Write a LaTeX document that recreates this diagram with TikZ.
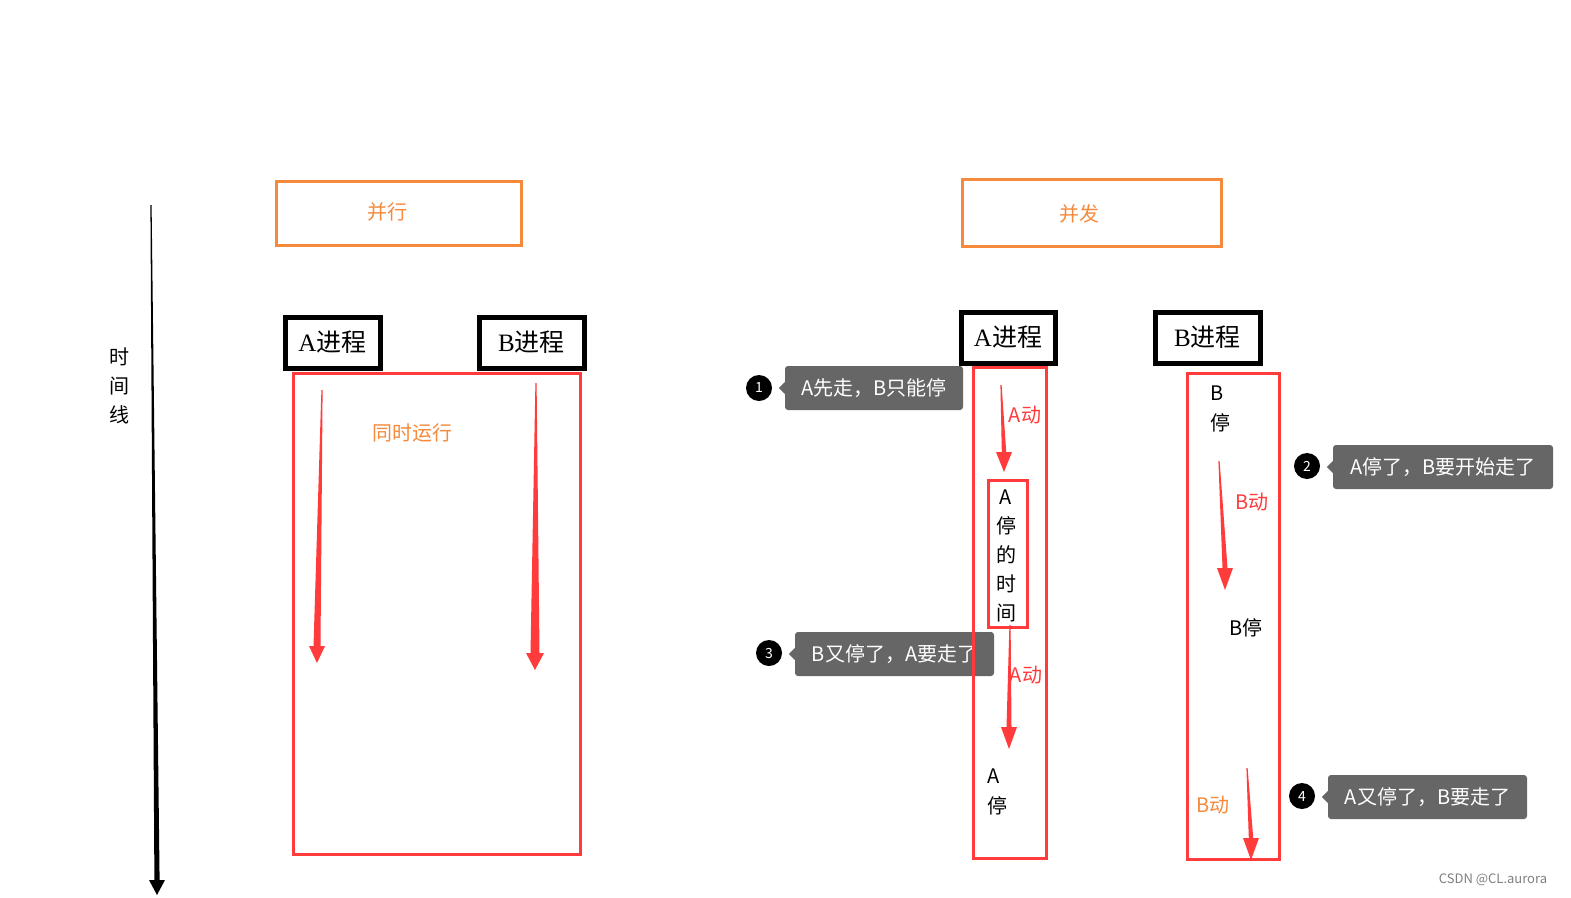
\documentclass[tikz,border=0pt]{standalone}
\usepackage{fontspec}
\setmainfont{Noto Sans CJK SC}
\newfontfamily\latserif{Liberation Serif}
\definecolor{myred}{HTML}{FF3B3B}
\definecolor{myorange}{HTML}{F58A3C}
\definecolor{callgray}{HTML}{666666}
\newcommand{\fs}[1]{\fontsize{#1}{#1}\selectfont}
% tapered arrow: x1,y1 (tail) x2,y2 (tip), half width bottom, half head width, head length, color
\newcommand{\tarrow}[8]{%
  \fill[#8] (#1-0.6,#2) -- (#1+0.6,#2) -- (#3+#5,#4-#7) -- (#3+#6,#4-#7) -- (#3,#4) -- (#3-#6,#4-#7) -- (#3-#5,#4-#7) -- cycle;}
\begin{document}
\begin{tikzpicture}[x=1pt,y=-1pt,
  titlebox/.style={draw=myorange,line width=3pt,inner sep=0pt},
  titletext/.style={text=myorange,font=\fs{20},inner sep=0pt},
  procbox/.style={draw=black,line width=5pt,font=\fs{25},inner sep=0pt},
  lane/.style={draw=myred,line width=3pt},
  call/.style={fill=callgray,text=white,rounded corners=3pt,font=\fs{20},inner sep=0pt,minimum height=44pt},
  num/.style={circle,fill=black,text=white,font=\fs{14},inner sep=0pt,minimum size=26pt},
  lbl/.style={font=\fs{20},inner sep=0pt}]
\useasboundingbox (0,0) rectangle (1571,897);
\fill[white] (0,0) rectangle (1571,897);

% timeline
\tarrow{151}{205}{157}{895}{2.6}{8}{15}{black}
\node[lbl,align=center] (tl) at (119,386) {时\\[9pt]间\\[9pt]线};

% left: parallel
\node[titlebox,minimum width=245pt,minimum height=64pt] (par) at (398.5,213) {};
\node[titletext] (partxt) at (387,212) {并行};
\node[procbox,minimum width=95pt,minimum height=51pt] (pa) at (332.5,342.5) {{\latserif A}进程};
\node[procbox,minimum width=105pt,minimum height=51pt] (pb) at (531.5,342.5) {{\latserif B}进程};
\draw[lane] (293,373) rectangle (580,854);
\node[lbl,text=myorange] (sim) at (412,433) {同时运行};
\tarrow{322}{390}{317}{663}{3.5}{8}{17}{myred}
\tarrow{536}{383}{535}{670}{4.5}{9}{17}{myred}

% right: concurrent
\node[titlebox,minimum width=259pt,minimum height=67pt] (con) at (1091.5,212.5) {};
\node[titletext] (contxt) at (1079,214) {并发};
\node[procbox,minimum width=94pt,minimum height=51pt] (ca) at (1008,337.5) {{\latserif A}进程};
\node[procbox,minimum width=105pt,minimum height=51pt] (cb) at (1207.5,337.5) {{\latserif B}进程};

% callouts
\node[call,minimum width=178pt] (c1) at (874,388) {A先走，B只能停};
\fill[callgray] (c1.west) ++(0,-6) -- ++(-6,6) -- ++(6,6) -- cycle;
\node[num] (n1) at (759,388) {1};
\node[call,minimum width=220pt] (c2) at (1443,467) {A停了，B要开始走了};
\fill[callgray] (c2.west) ++(0,-6) -- ++(-6,6) -- ++(6,6) -- cycle;
\node[num] (n2) at (1307,466) {2};
\node[call,minimum width=199pt] (c3) at (894.5,654) {B又停了，A要走了};
\fill[callgray] (c3.west) ++(0,-6) -- ++(-6,6) -- ++(6,6) -- cycle;
\node[num] (n3) at (769,653) {3};
\node[call,minimum width=199pt] (c4) at (1427.5,797) {A又停了，B要走了};
\fill[callgray] (c4.west) ++(0,-6) -- ++(-6,6) -- ++(6,6) -- cycle;
\node[num] (n4) at (1302,796) {4};

% A lane
\draw[lane] (973,367) rectangle (1046,858);
\node[lbl,text=myred] (ad1) at (1025,415) {A动};
\tarrow{1001}{385}{1004}{472}{2.2}{8}{20}{myred}
\draw[lane] (988,480) rectangle (1027,627);
\node[lbl,align=center] (astop) at (1006,556) {A\\[9pt]停\\[9pt]的\\[9pt]时\\[9pt]间};
\node[lbl,text=myred] (ad2) at (1026,675) {A动};
\tarrow{1010}{625}{1009}{749}{2.5}{8}{22}{myred}
\node[lbl,align=left] (astop2) at (997,792) {A\\[10pt]停};

% B lane
\draw[lane] (1187,373) rectangle (1279,859);
\node[lbl,align=left] (bstop1) at (1220,409) {B\\[10pt]停};
\tarrow{1219}{461}{1225}{590}{2.5}{8}{22}{myred}
\node[lbl,text=myred] (bd1) at (1252,502) {B动};
\node[lbl] (bstop2) at (1246,628) {B停};
\node[lbl,text=myorange] (bd2) at (1213,805) {B动};
\tarrow{1247}{768}{1251}{860}{2.2}{8}{22}{myred}

% watermark
\node[font=\fs{13},text=gray,inner sep=0pt] (wm) at (1493,880) {CSDN @CL.aurora};
\end{tikzpicture}
\end{document}
